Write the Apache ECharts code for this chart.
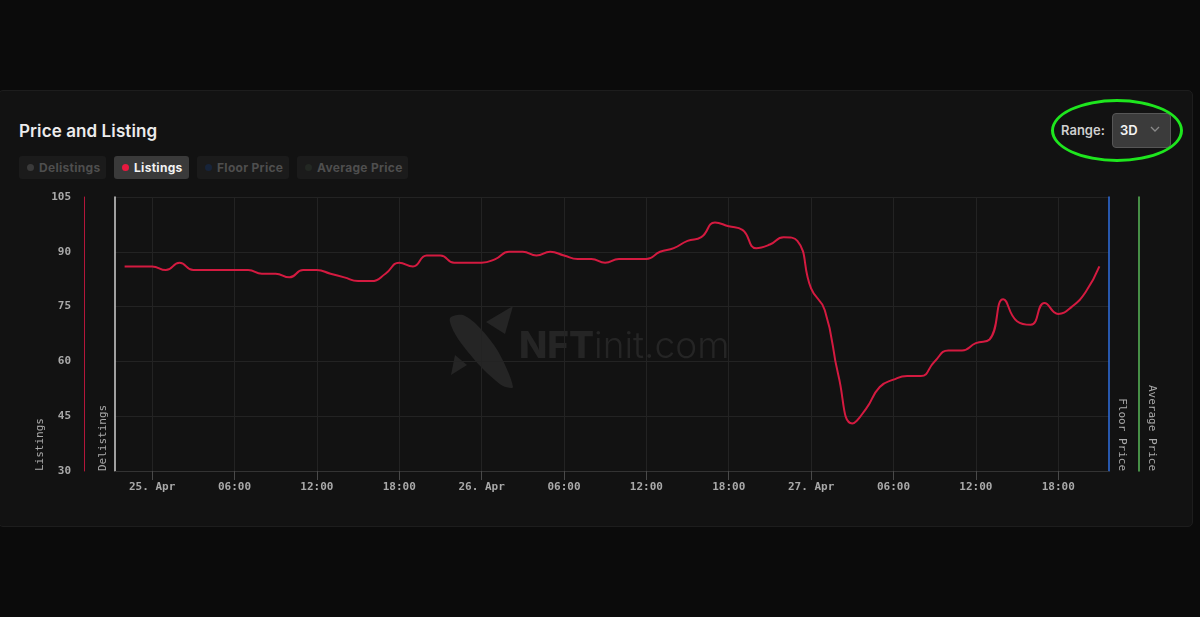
<!DOCTYPE html>
<html>
<head>
<meta charset="utf-8">
<title>Price and Listing</title>
<script src="https://cdn.jsdelivr.net/npm/echarts@6/dist/echarts.min.js"></script>
<style>
  html, body {
    margin: 0;
    padding: 0;
    width: 1200px;
    height: 617px;
    background: #0b0b0b;
    overflow: hidden;
    font-family: Inter, "Noto Sans", sans-serif;
  }
  .card {
    position: absolute;
    left: -2px;
    top: 90px;
    width: 1195px;
    height: 437px;
    background: #121212;
    border: 1px solid #1d1d1d;
    border-radius: 5px;
    box-sizing: border-box;
  }
  .title {
    position: absolute;
    left: 19px;
    top: 121px;
    font-size: 17px;
    font-weight: 600;
    color: #ececec;
    letter-spacing: 0.1px;
  }
  .legend {
    position: absolute;
    top: 156px;
    height: 23px;
    border-radius: 3px;
    background: #1b1b1b;
    color: #4e4e4e;
    font-size: 12px;
    font-weight: 700;
    line-height: 23px;
    box-sizing: border-box;
    padding-left: 20px;
    letter-spacing: 0.3px;
  }
  .legend i {
    position: absolute;
    left: 8px;
    top: 8px;
    width: 7px;
    height: 7px;
    border-radius: 50%;
  }
  .legend.on {
    background: #3a3a3a;
    color: #f2f2f2;
  }
  .range-label {
    position: absolute;
    left: 1061px;
    top: 122px;
    font-size: 13px;
    font-weight: 600;
    color: #cfcfcf;
  }
  .range-btn {
    position: absolute;
    left: 1112px;
    top: 113px;
    width: 59px;
    height: 35px;
    background: #3b3b3b;
    border: 1px solid #565656;
    border-radius: 4px;
    box-sizing: border-box;
    color: #f4f4f4;
    font-size: 13px;
    font-weight: 600;
    line-height: 33px;
    padding-left: 7px;
  }
  .range-btn svg {
    position: absolute;
    left: 37px;
    top: 12px;
  }
  .ring {
    position: absolute;
    left: 1051px;
    top: 99px;
    width: 132px;
    height: 63px;
    border: 3px solid #1ee61e;
    border-radius: 50%;
    box-sizing: border-box;
  }
  #chart {
    position: absolute;
    left: 0;
    top: 0;
    width: 1200px;
    height: 617px;
  }
</style>
</head>
<body>
<div class="card"></div>
<div class="title">Price and Listing</div>
<div class="legend" style="left:19px;width:87px;"><i style="background:#3a3a3a"></i>Delistings</div>
<div class="legend on" style="left:114px;width:75px;"><i style="background:#e8193f"></i>Listings</div>
<div class="legend" style="left:197px;width:92px;"><i style="background:#17243a"></i>Floor Price</div>
<div class="legend" style="left:297px;width:111px;"><i style="background:#232823"></i>Average Price</div>
<div class="range-label">Range:</div>
<div class="range-btn">3D<svg width="10" height="7" viewBox="0 0 10 7"><polyline points="1,1 5,5 9,1" fill="none" stroke="#8a8a8a" stroke-width="1.3"/></svg></div>
<div class="ring"></div>
<div id="chart"></div>

<script>
// hours counted from 25 Apr 00:00
const startHour = -2;
// hourly listings, 24 Apr 22:00 .. 27 Apr 21:00
const listings = [
  86, 86, 86, 85, 87, 85, 85, 85, 85, 85, 84, 84,
  83, 85, 85, 84, 83, 82, 82, 84, 87, 86, 89, 89,
  87, 87, 87, 88, 90, 90, 89, 90, 89, 88, 88, 87,
  88, 88, 88, 90, 91, 93, 94, 98, 97, 96, 91, 92,
  94, 93, 80, 74, 56, 43, 47, 53, 55, 56, 56, 60,
  63, 63, 65, 66, 77, 71, 70, 76, 73, 75, 79, 86
];
// x tick positions (hours) and their labels
const tickHours = [0, 6, 12, 18, 24, 30, 36, 42, 48, 54, 60, 66];
const tickLabels = ["25. Apr", "06:00", "12:00", "18:00", "26. Apr", "06:00",
  "12:00", "18:00", "27. Apr", "06:00", "12:00", "18:00"];
const yTicks = [30, 45, 60, 75, 90, 105];

const mono = "'DejaVu Sans Mono', 'Liberation Mono', monospace";
const labelColor = "#a9a9a9";
const gridColor = "#232323";
const markColor = "#252525";

let chart = echarts.init(document.getElementById("chart"));

let seriesData = listings.map((v, i) => [startHour + i, v]);
let tickMap = {};
tickHours.forEach((h, i) => (tickMap[h] = tickLabels[i]));

// blank axis used for delistings / price lines
function sideAxis(position, offset, color) {
  return {
    type: "value",
    position: position,
    offset: offset,
    min: 0,
    max: 1,
    axisLine: { show: true, onZero: false, lineStyle: { color: color, width: 1.5 } },
    axisTick: { show: false },
    axisLabel: { show: false },
    splitLine: { show: false },
  };
}

chart.setOption({
  backgroundColor: "transparent",
  animation: false,
  grid: {
    left: 115,
    right: 91,
    top: 197,
    bottom: 146,
  },
  xAxis: {
    type: "value",
    min: -2.7,
    max: 69.7,
    axisLine: { show: true, onZero: false, lineStyle: { color: "#333333" } },
    axisTick: {
      show: true,
      customValues: tickHours,
      length: 9,
      lineStyle: { color: "#4a4a4a" },
    },
    axisLabel: {
      customValues: tickHours,
      color: labelColor,
      fontFamily: mono,
      fontSize: 11,
      fontWeight: "bold",
      margin: 11,
      formatter: (v) => tickMap[v] || "",
    },
    splitLine: { show: false },
  },
  yAxis: [
    {
      type: "value",
      position: "left",
      offset: 31,
      min: yTicks[0],
      max: yTicks[yTicks.length - 1],
      interval: 15,
      axisLine: { show: true, onZero: false, lineStyle: { color: "#b3163a", width: 1 } },
      axisTick: { show: false },
      axisLabel: {
        color: labelColor,
        fontFamily: mono,
        fontSize: 11,
        fontWeight: "bold",
        margin: 13,
      },
      splitLine: { show: true, lineStyle: { color: gridColor, width: 1 } },
    },
    sideAxis("left", 0, "#cfcfcf"),
    sideAxis("right", 0, "#2f6fe0"),
    sideAxis("right", 30, "#58b858"),
  ],
  graphic: [
    // watermark logo
    {
      type: "polygon",
      silent: true,
      z: 0,
      shape: { points: [[450, 318], [463, 315], [480, 328], [499, 353], [513, 387], [503, 386], [483, 369], [464, 347], [454, 332]], smooth: 0.3 },
      style: { fill: markColor },
    },
    {
      type: "polygon",
      silent: true,
      z: 0,
      shape: { points: [[486, 322], [513, 306], [505, 334]] },
      style: { fill: markColor },
    },
    {
      type: "polygon",
      silent: true,
      z: 0,
      shape: { points: [[455, 355], [467, 365], [451, 375]] },
      style: { fill: markColor },
    },
    {
      type: "text",
      x: 519,
      y: 347,
      silent: true,
      z: 0,
      style: {
        text: "{a|NFT}{b|init.com}",
        verticalAlign: "middle",
        rich: {
          a: { fill: markColor, fontFamily: "Inter, 'Noto Sans', sans-serif", fontSize: 37, fontWeight: 800 },
          b: { fill: markColor, fontFamily: "Inter, 'Noto Sans', sans-serif", fontSize: 37, fontWeight: 300 },
        },
      },
    },
    // axis names
    {
      type: "text",
      x: 40,
      y: 471,
      rotation: Math.PI / 2,
      style: { text: "Listings", fill: labelColor, font: "11px " + mono, align: "left", verticalAlign: "middle" },
    },
    {
      type: "text",
      x: 103,
      y: 471,
      rotation: Math.PI / 2,
      style: { text: "Delistings", fill: labelColor, font: "11px " + mono, align: "left", verticalAlign: "middle" },
    },
    {
      type: "text",
      x: 1122,
      y: 471,
      rotation: -Math.PI / 2,
      style: { text: "Floor Price", fill: labelColor, font: "11px " + mono, align: "right", verticalAlign: "middle" },
    },
    {
      type: "text",
      x: 1152,
      y: 471,
      rotation: -Math.PI / 2,
      style: { text: "Average Price", fill: labelColor, font: "11px " + mono, align: "right", verticalAlign: "middle" },
    },
  ],
  series: [
    {
      name: "Listings",
      type: "line",
      yAxisIndex: 0,
      data: seriesData,
      smooth: 0.5,
      symbol: "none",
      lineStyle: { color: "#d41a40", width: 2 },
      z: 3,
      markLine: {
        silent: true,
        symbol: "none",
        z: 1,
        label: { show: false },
        lineStyle: { color: gridColor, type: "solid", width: 1 },
        data: tickHours.map((h) => ({ xAxis: h })),
      },
    },
  ],
});

window.addEventListener("resize", () => chart.resize());
</script>
</body>
</html>
